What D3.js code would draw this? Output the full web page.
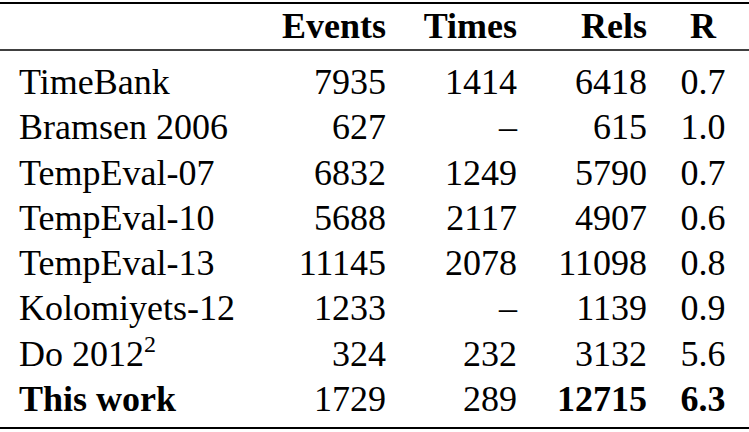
<!DOCTYPE html>
<html><head><meta charset="utf-8">
<script src="https://cdn.jsdelivr.net/npm/d3@7"></script>
<style>body{margin:0;background:#fff}</style></head>
<body><svg id="c" width="749" height="432"></svg>
<script>
const columns = ["Events","Times","Rels","R"];
const corpora = ["TimeBank","Bramsen 2006","TempEval-07","TempEval-10","TempEval-13","Kolomiyets-12","Do 2012","This work"];
const events = ["7935","627","6832","5688","11145","1233","324","1729"];
const times = ["1414","–","1249","2117","2078","–","232","289"];
const rels = ["6418","615","5790","4907","11098","1139","3132","12715"];
const ratio = ["0.7","1.0","0.7","0.6","0.8","0.9","5.6","6.3"];
const superscripts = ["","","","","","","2",""];
const boldLast = {label:true, Events:false, Times:false, Rels:true, R:true};

const svg = d3.select("#c");
const W = 749;
const font = "'Liberation Serif','Times New Roman',serif";
const y = d3.scalePoint().domain(d3.range(corpora.length)).range([94, 411]);
const colX = {Events:386, Times:517, Rels:647, R:703};
const colAnchor = {Events:"end", Times:"end", Rels:"end", R:"middle"};

svg.append("line").attr("x1",0).attr("x2",W).attr("y1",3).attr("y2",3).attr("stroke","#000").attr("stroke-width",2);
svg.append("line").attr("x1",0).attr("x2",W).attr("y1",50).attr("y2",50).attr("stroke","#000").attr("stroke-width",1.3);
svg.append("line").attr("x1",0).attr("x2",W).attr("y1",428).attr("y2",428).attr("stroke","#000").attr("stroke-width",2);

const g = svg.append("g").attr("font-family",font).attr("font-size",36).attr("fill","#000");
columns.forEach(c=>{
  g.append("text").attr("x",colX[c]).attr("y",38).attr("text-anchor",colAnchor[c]).attr("font-weight","bold").text(c);
});
const data = corpora.map((name,i)=>({name, i, Events:events[i], Times:times[i], Rels:rels[i], R:ratio[i], sup:superscripts[i]}));
const last = corpora.length-1;
data.forEach(d=>{
  const t = g.append("text").attr("x",19).attr("y",y(d.i)).attr("font-weight", d.i===last&&boldLast.label?"bold":"normal").text(d.name);
  if(d.sup) t.append("tspan").attr("font-size",24).attr("dy",-14).text(d.sup);
  columns.forEach(c=>{
    g.append("text").attr("x",colX[c]).attr("y",y(d.i)).attr("text-anchor",colAnchor[c])
      .attr("font-weight", d.i===last&&boldLast[c]?"bold":"normal").text(d[c]);
  });
});
</script></body></html>
